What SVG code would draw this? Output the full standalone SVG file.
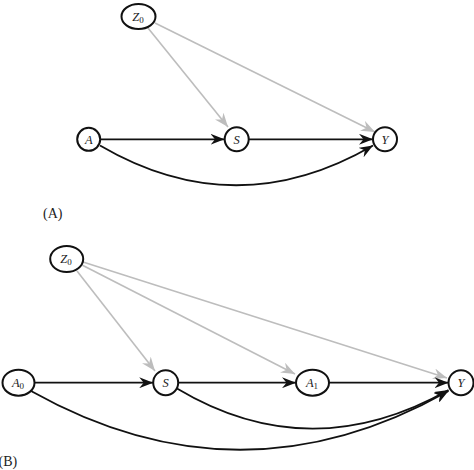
<svg xmlns="http://www.w3.org/2000/svg" width="474" height="470" viewBox="0 0 474 470">
<style>
.node{fill:#fff;stroke:#111;stroke-width:2}
.lbl{font-family:"Liberation Serif",serif;font-style:italic;font-size:12.5px;fill:#222;text-anchor:middle}
.sub{font-style:normal;font-size:9px}
.blk{fill:none;stroke:#111;stroke-width:1.8}
.gry{fill:none;stroke:#bdbdbd;stroke-width:1.6}
.cap{font-family:"Liberation Serif",serif;font-size:14px;fill:#222}
</style>
<defs>
<marker id="ab" markerUnits="userSpaceOnUse" markerWidth="15" markerHeight="11" viewBox="0 0 15 11" refX="14" refY="5.5" orient="auto">
<path d="M0,0 L14,5.5 L0,11 L4.5,5.5 z" fill="#111"/>
</marker>
<marker id="ag" markerUnits="userSpaceOnUse" markerWidth="15" markerHeight="11" viewBox="0 0 15 11" refX="14" refY="5.5" orient="auto">
<path d="M0,0 L14,5.5 L0,11 L4.5,5.5 z" fill="#bdbdbd"/>
</marker>
</defs>
<g id="connectors">
<line class="gry" x1="148" y1="28" x2="228" y2="127" marker-end="url(#ag)"/>
<line class="gry" x1="155" y1="23" x2="375" y2="132" marker-end="url(#ag)"/>
<line class="blk" x1="100.5" y1="139.3" x2="224.5" y2="139.3" marker-end="url(#ab)"/>
<line class="blk" x1="248.7" y1="139.3" x2="373" y2="139.3" marker-end="url(#ab)"/>
<path class="blk" d="M100,145.5 Q236,225 373,145.5" marker-end="url(#ab)"/>
<line class="gry" x1="77" y1="271" x2="155" y2="371" marker-end="url(#ag)"/>
<line class="gry" x1="82" y1="265" x2="295" y2="374" marker-end="url(#ag)"/>
<line class="gry" x1="83" y1="262" x2="447" y2="378" marker-end="url(#ag)"/>
<line class="blk" x1="34.5" y1="382.7" x2="153.2" y2="382.7" marker-end="url(#ab)"/>
<line class="blk" x1="178.2" y1="382.7" x2="296" y2="382.7" marker-end="url(#ab)"/>
<line class="blk" x1="329" y1="382.7" x2="448.5" y2="382.7" marker-end="url(#ab)"/>
<path class="blk" d="M177,388.5 Q310,468 448.5,390" marker-end="url(#ab)"/>
<path class="blk" d="M31,391 Q240.5,508.5 448.5,391" marker-end="url(#ab)"/>
</g>
<g id="nodeA_Z0"><ellipse class="node" cx="138.5" cy="16.5" rx="17" ry="12.5"/><text class="lbl" x="138" y="20.5">Z<tspan class="sub" dy="2">0</tspan></text></g>
<g id="nodeA_A"><circle class="node" cx="88.7" cy="139.3" r="11.5"/><text class="lbl" x="88.7" y="143.6">A</text></g>
<g id="nodeA_S"><circle class="node" cx="236.7" cy="139.3" r="12"/><text class="lbl" x="236.7" y="143.6">S</text></g>
<g id="nodeA_Y"><circle class="node" cx="385" cy="139.3" r="12"/><text class="lbl" x="385" y="143.6">Y</text></g>
<text class="cap" x="43" y="218">(A)</text>
<g id="nodeB_Z0"><ellipse class="node" cx="66.7" cy="259" rx="16.5" ry="13"/><text class="lbl" x="66" y="263">Z<tspan class="sub" dy="2">0</tspan></text></g>
<g id="nodeB_A0"><ellipse class="node" cx="18.5" cy="382.7" rx="16" ry="13"/><text class="lbl" x="18" y="386.8">A<tspan class="sub" dy="2">0</tspan></text></g>
<g id="nodeB_S"><circle class="node" cx="165.7" cy="382.7" r="12.5"/><text class="lbl" x="165.7" y="387">S</text></g>
<g id="nodeB_A1"><ellipse class="node" cx="312.5" cy="382.7" rx="16.5" ry="13"/><text class="lbl" x="312" y="386.8">A<tspan class="sub" dy="2">1</tspan></text></g>
<g id="nodeB_Y"><circle class="node" cx="461" cy="382.7" r="12.5"/><text class="lbl" x="461" y="387">Y</text></g>
<text class="cap" x="-1.5" y="466">(B)</text>
</svg>
